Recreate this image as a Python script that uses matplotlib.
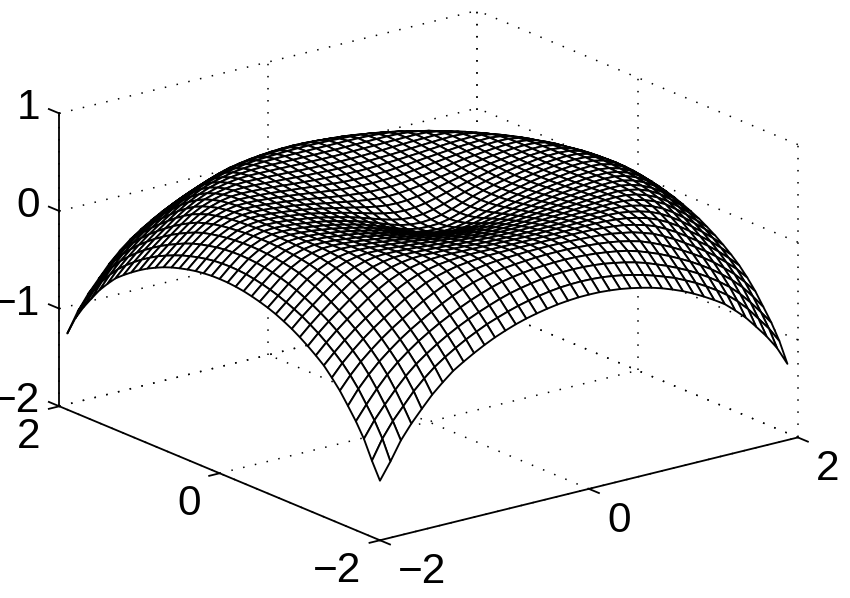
import numpy as np
import matplotlib
matplotlib.use('Agg')
import matplotlib.pyplot as plt

plt.rcParams['font.family'] = ['Liberation Sans', 'DejaVu Sans']

# mesh nodes: 40 lines from -2 to 1.9
x_nodes = [-2.0 + 0.1 * k for k in range(40)]
y_nodes = [-2.0 + 0.1 * k for k in range(40)]

# surface height, one eighth of the surface
# z_rows[i][j] is the height at |x|=0.1*i, |y|=0.1*j with j <= i
z_rows = [
    [0.],
    [.005, .013],
    [.025, .033, .054],
    [.06, .066, .084, .11],
    [.10, .105, .119, .14, .163],
    [.14, .144, .154, .169, .187, .207],
    [.175, .177, .185, .196, .21, .225, .242],
    [.205, .207, .212, .22, .232, .245, .26, .273],
    [.23, .232, .236, .244, .254, .264, .275, .285, .295],
    [.255, .256, .26, .267, .272, .28, .287, .296, .305, .312],
    [.275, .276, .279, .283, .287, .293, .30, .306, .312, .317, .32],
    [.29, .291, .293, .296, .30, .306, .31, .315, .317, .32, .316, .301],
    [.305, .306, .308, .31, .312, .315, .317, .319, .32, .315, .30, .277, .246],
    [.315, .315, .316, .317, .318, .32, .32, .317, .308, .295, .272, .243, .20, .146],
    [.32, .32, .32, .32, .319, .316, .309, .299, .285, .261, .232, .193, .14, .08, .01],
    [.315, .314, .312, .307, .302, .295, .283, .265, .245, .213, .177, .126, .07, .005, -.062, -.133],
    [.29, .289, .285, .277, .268, .256, .239, .215, .187, .146, .10, .048, -.01, -.072, -.138, -.212, -.296],
    [.245, .243, .237, .228, .215, .198, .177, .146, .108, .066, .018, -.035, -.091, -.154, -.222, -.30, -.386, -.486],
    [.18, .177, .17, .158, .14, .119, .093, .06, .02, -.022, -.069, -.121, -.179, -.244, -.316, -.396, -.493, -.607, -.733],
    [.09, .087, .08, .066, .048, .025, -.002, -.035, -.072, -.112, -.162, -.215, -.276, -.343, -.418, -.509, -.614, -.74, -.867, -1.021],
    [-.01, -.012, -.02, -.032, -.05, -.072, -.098, -.13, -.169, -.212, -.263, -.32, -.382, -.45, -.541, -.64, -.76, -.885, -1.03, -1.22, -1.39],
]

x_ticks = [-2, 0, 2]
y_ticks = [-2, 0, 2]
z_ticks = [-2, -1, 0, 1]

# the surface is the same in all eight octants
Z = np.zeros((len(y_nodes), len(x_nodes)))
for r, yv in enumerate(y_nodes):
    for c, xv in enumerate(x_nodes):
        i = int(round(abs(xv) * 10))
        j = int(round(abs(yv) * 10))
        Z[r, c] = z_rows[max(i, j)][min(i, j)]
X, Y = np.meshgrid(x_nodes, y_nodes)

fig = plt.figure(figsize=(8.5, 5.98), dpi=100)
ax = fig.add_axes([26.5 / 850, -79.5 / 598, 783 / 850, 783 / 598],
                  projection='3d', computed_zorder=False)
ax.set_proj_type('ortho')
ax.view_init(elev=18.7, azim=-127.5)
ax.set_box_aspect((1, 1, 0.587))
ax.set_xlim(-2, 2, view_margin=0)
ax.set_ylim(-2, 2, view_margin=0)
ax.set_zlim(-2, 1, view_margin=0)
ax.set_axis_off()

# dotted grid on the floor and the two back walls
dots = dict(color='black', lw=1.1, linestyle=(0, (1, 6.9)), zorder=1)
for t in x_ticks:
    ax.plot([t, t], [-2, 2], [-2, -2], **dots)
    ax.plot([t, t], [2, 2], [-2, 1], **dots)
for t in y_ticks:
    ax.plot([-2, 2], [t, t], [-2, -2], **dots)
    ax.plot([2, 2], [t, t], [-2, 1], **dots)
for t in z_ticks:
    ax.plot([-2, 2], [2, 2], [t, t], **dots)
    ax.plot([2, 2], [-2, 2], [t, t], **dots)

ax.plot_surface(X, Y, Z, rstride=1, cstride=1, color='white', edgecolor='black',
                linewidth=1.35, shade=False, zorder=2)

# solid axes with their tick marks
solid = dict(color='black', lw=1.3, zorder=3)
ax.plot([-2, 2], [-2, -2], [-2, -2], **solid)
ax.plot([-2, -2], [-2, 2], [-2, -2], **solid)
ax.plot([-2, -2], [2, 2], [-2, 1], **solid)

label_size = 30.5
for t in x_ticks:
    ax.plot([t, t], [-2, -2.125], [-2, -2], **solid)
    ax.text(t, -2.225, -2.25, str(t).replace('-', '\u2212'), fontsize=label_size,
            ha='left', va='center')
for t in y_ticks:
    ax.plot([-2, -2.1], [t, t], [-2, -2], **solid)
    ax.text(-2.18, t, -2.27, str(t).replace('-', '\u2212'), fontsize=label_size,
            ha='right', va='center')
for t in z_ticks:
    ax.plot([-2, -2], [2, 2.13], [t, t], **solid)
    ax.text(-2, 2.2375, t - 0.03, str(t).replace('-', '\u2212'), fontsize=label_size,
            ha='right', va='center')

fig.savefig('out.png', dpi=100)
